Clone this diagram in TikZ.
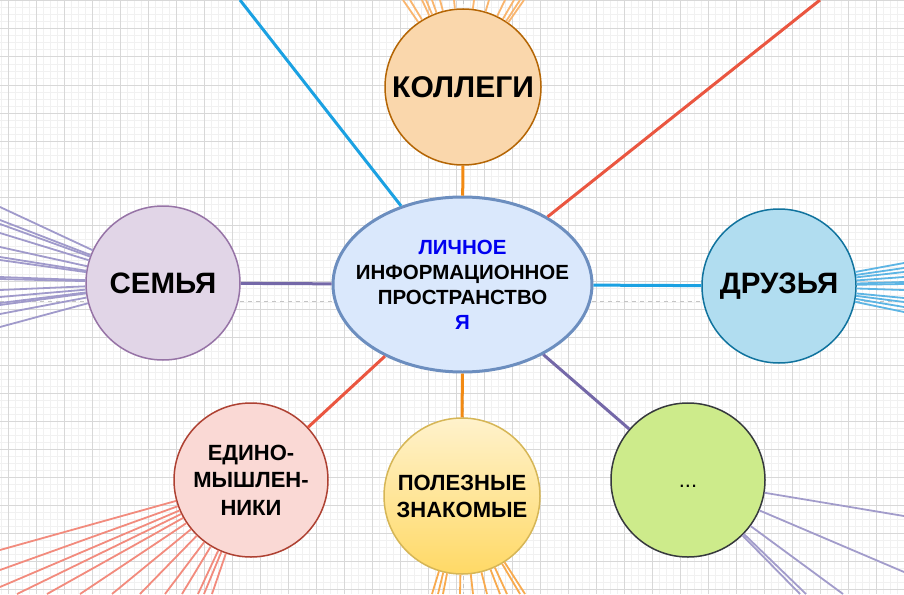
\documentclass[tikz,border=0pt]{standalone}
\usepackage{fontspec}
\setmainfont{Liberation Sans}
\usetikzlibrary{shapes.geometric}

\definecolor{gridmajor}{HTML}{D8D8D8}
\definecolor{gridminor}{HTML}{F1F1F1}
\definecolor{guidegray}{HTML}{C4C4C4}
\definecolor{bluelink}{HTML}{1BA1E2}
\definecolor{redlink}{HTML}{EA5640}
\definecolor{orangelink}{HTML}{F28A13}
\definecolor{purplelink}{HTML}{7468A8}
\definecolor{kolfan}{HTML}{F9B56E}
\definecolor{semfan}{HTML}{A09ACB}
\definecolor{drufan}{HTML}{5DB5E4}
\definecolor{edifan}{HTML}{F28B7D}
\definecolor{polfan}{HTML}{F8AA4E}
\definecolor{dotfan}{HTML}{A29CCB}
\definecolor{ellfill}{HTML}{DAE8FC}
\definecolor{elldraw}{HTML}{6C8EBF}
\definecolor{kolfill}{HTML}{FAD7AC}
\definecolor{koldraw}{HTML}{B46504}
\definecolor{semfill}{HTML}{E1D5E7}
\definecolor{semdraw}{HTML}{9673A6}
\definecolor{drufill}{HTML}{B1DDF0}
\definecolor{drudraw}{HTML}{10739E}
\definecolor{edifill}{HTML}{FAD9D5}
\definecolor{edidraw}{HTML}{AE4132}
\definecolor{poltop}{HTML}{FFF2CC}
\definecolor{polbottom}{HTML}{FFD966}
\definecolor{poldraw}{HTML}{D6B656}
\definecolor{dotfill}{HTML}{CDEB8B}
\definecolor{dotdraw}{HTML}{36393D}
\definecolor{textblue}{HTML}{0000F0}

\begin{document}
\begin{tikzpicture}[x=1pt, y=-1pt,
    circ/.style={circle, minimum size=154pt, inner sep=0pt, line width=1.5pt, align=center},
    fan/.style={line width=1.8pt},
    link/.style={line width=3pt},
    guide/.style={guidegray, line width=1pt, dash pattern=on 4pt off 4pt}]
    \useasboundingbox (0,0) rectangle (904,594);
    \clip (0,0) rectangle (904,594);

    % Grid
    \fill[white] (0,0) rectangle (904,594);
    \foreach \x in {1,8,...,904} \draw[gridminor, line width=1pt] (\x,0) -- (\x,594);
    \foreach \y in {1,8,...,594} \draw[gridminor, line width=1pt] (0,\y) -- (904,\y);
    \foreach \x in {8,36,...,904} \draw[gridmajor, line width=1pt] (\x,0) -- (\x,594);
    \foreach \y in {1,29,...,594} \draw[gridmajor, line width=1pt] (0,\y) -- (904,\y);
    \draw[guide] (0,301) -- (904,301);
    \draw[guide] (463,0) -- (463,594);

    % Centre
    \node[ellipse, minimum width=259pt, minimum height=175pt, inner sep=0pt,
          fill=ellfill, draw=elldraw, line width=3pt] (ell) at (462.5,284.5) {};
    \node[align=center, inner sep=0pt,
          font=\fontsize{20.5}{25}\selectfont\bfseries] (elltext) at (ell.center)
        {\textcolor{textblue}{ЛИЧНОЕ}\\ИНФОРМАЦИОННОЕ\\ПРОСТРАНСТВО\\\textcolor{textblue}{Я}};

    % Circles around
    \node[circ, minimum size=156pt, fill=kolfill, draw=koldraw,
          font=\fontsize{30}{34}\selectfont\bfseries] (kol) at (463,87) {КОЛЛЕГИ};
    \node[circ, fill=semfill, draw=semdraw,
          font=\fontsize{29.5}{34}\selectfont\bfseries] (sem) at (163,283) {СЕМЬЯ};
    \node[circ, fill=drufill, draw=drudraw,
          font=\fontsize{29.5}{34}\selectfont\bfseries] (dru) at (779,286) {ДРУЗЬЯ};
    \node[circ, fill=edifill, draw=edidraw,
          font=\fontsize{22}{27.5}\selectfont\bfseries] (edi) at (251,480) {ЕДИНО-\\МЫШЛЕН-\\НИКИ};
    \node[circ, minimum size=156pt, top color=poltop, bottom color=polbottom, draw=poldraw,
          font=\fontsize{22}{27}\selectfont\bfseries] (pol) at (462,496) {ПОЛЕЗНЫЕ\\ЗНАКОМЫЕ};
    \node[circ, fill=dotfill, draw=dotdraw,
          font=\fontsize{22}{27}\selectfont] (dots) at (688,480) {\vphantom{Н}...};

    % Fans going off the page
    \foreach \x [count=\i] in {403,410,422,426,432,440,454,474,489,505,514,520,524} {
        \coordinate (kf\i) at (\x,0);
        \draw[fan, kolfan] (kf\i) -- (kol);
    }
    \foreach \y [count=\i] in {207,220,224,233,247,257,260,277,279,290,297,303,305,314,327} {
        \coordinate (sf\i) at (0,\y);
        \draw[fan, semfan] (sf\i) -- (sem);
    }
    \foreach \y [count=\i] in {263,268,272,277,282,284,290,298,302,307,312} {
        \coordinate (df\i) at (904,\y);
        \draw[fan, drufan] (df\i) -- (dru);
    }
    \foreach \x [count=\i] in {432,438,443,460,473,487,500,507,520,525} {
        \coordinate (pf\i) at (\x,594);
        \draw[fan, polfan] (pf\i) -- (pol);
    }
    \foreach \y [count=\i] in {550,570,587} {
        \coordinate (el\i) at (0,\y);
        \draw[fan, edifan] (el\i) -- (edi);
    }
    \foreach \x [count=\i] in {17,47,80,112,140,165,182,198,204,212} {
        \coordinate (eb\i) at (\x,594);
        \draw[fan, edifan] (eb\i) -- (edi);
    }
    \foreach \x/\y [count=\i] in {904/516,904/572,843/594,806/594,800/594} {
        \coordinate (of\i) at (\x,\y);
        \draw[fan, dotfan] (of\i) -- (dots);
    }

    % Links to the centre
    \coordinate (topleft) at (240,0);
    \coordinate (topright) at (820,0);
    \draw[link, bluelink] (ell) -- (topleft);
    \draw[link, redlink] (ell) -- (topright);
    \draw[link, orangelink] (ell) -- (kol);
    \draw[link, orangelink] (ell) -- (pol);
    \draw[link, purplelink] (ell) -- (sem);
    \draw[link, bluelink] (ell) -- (dru);
    \draw[link, redlink] (ell) -- (edi);
    \draw[link, purplelink] (ell) -- (dots);
\end{tikzpicture}
\end{document}
